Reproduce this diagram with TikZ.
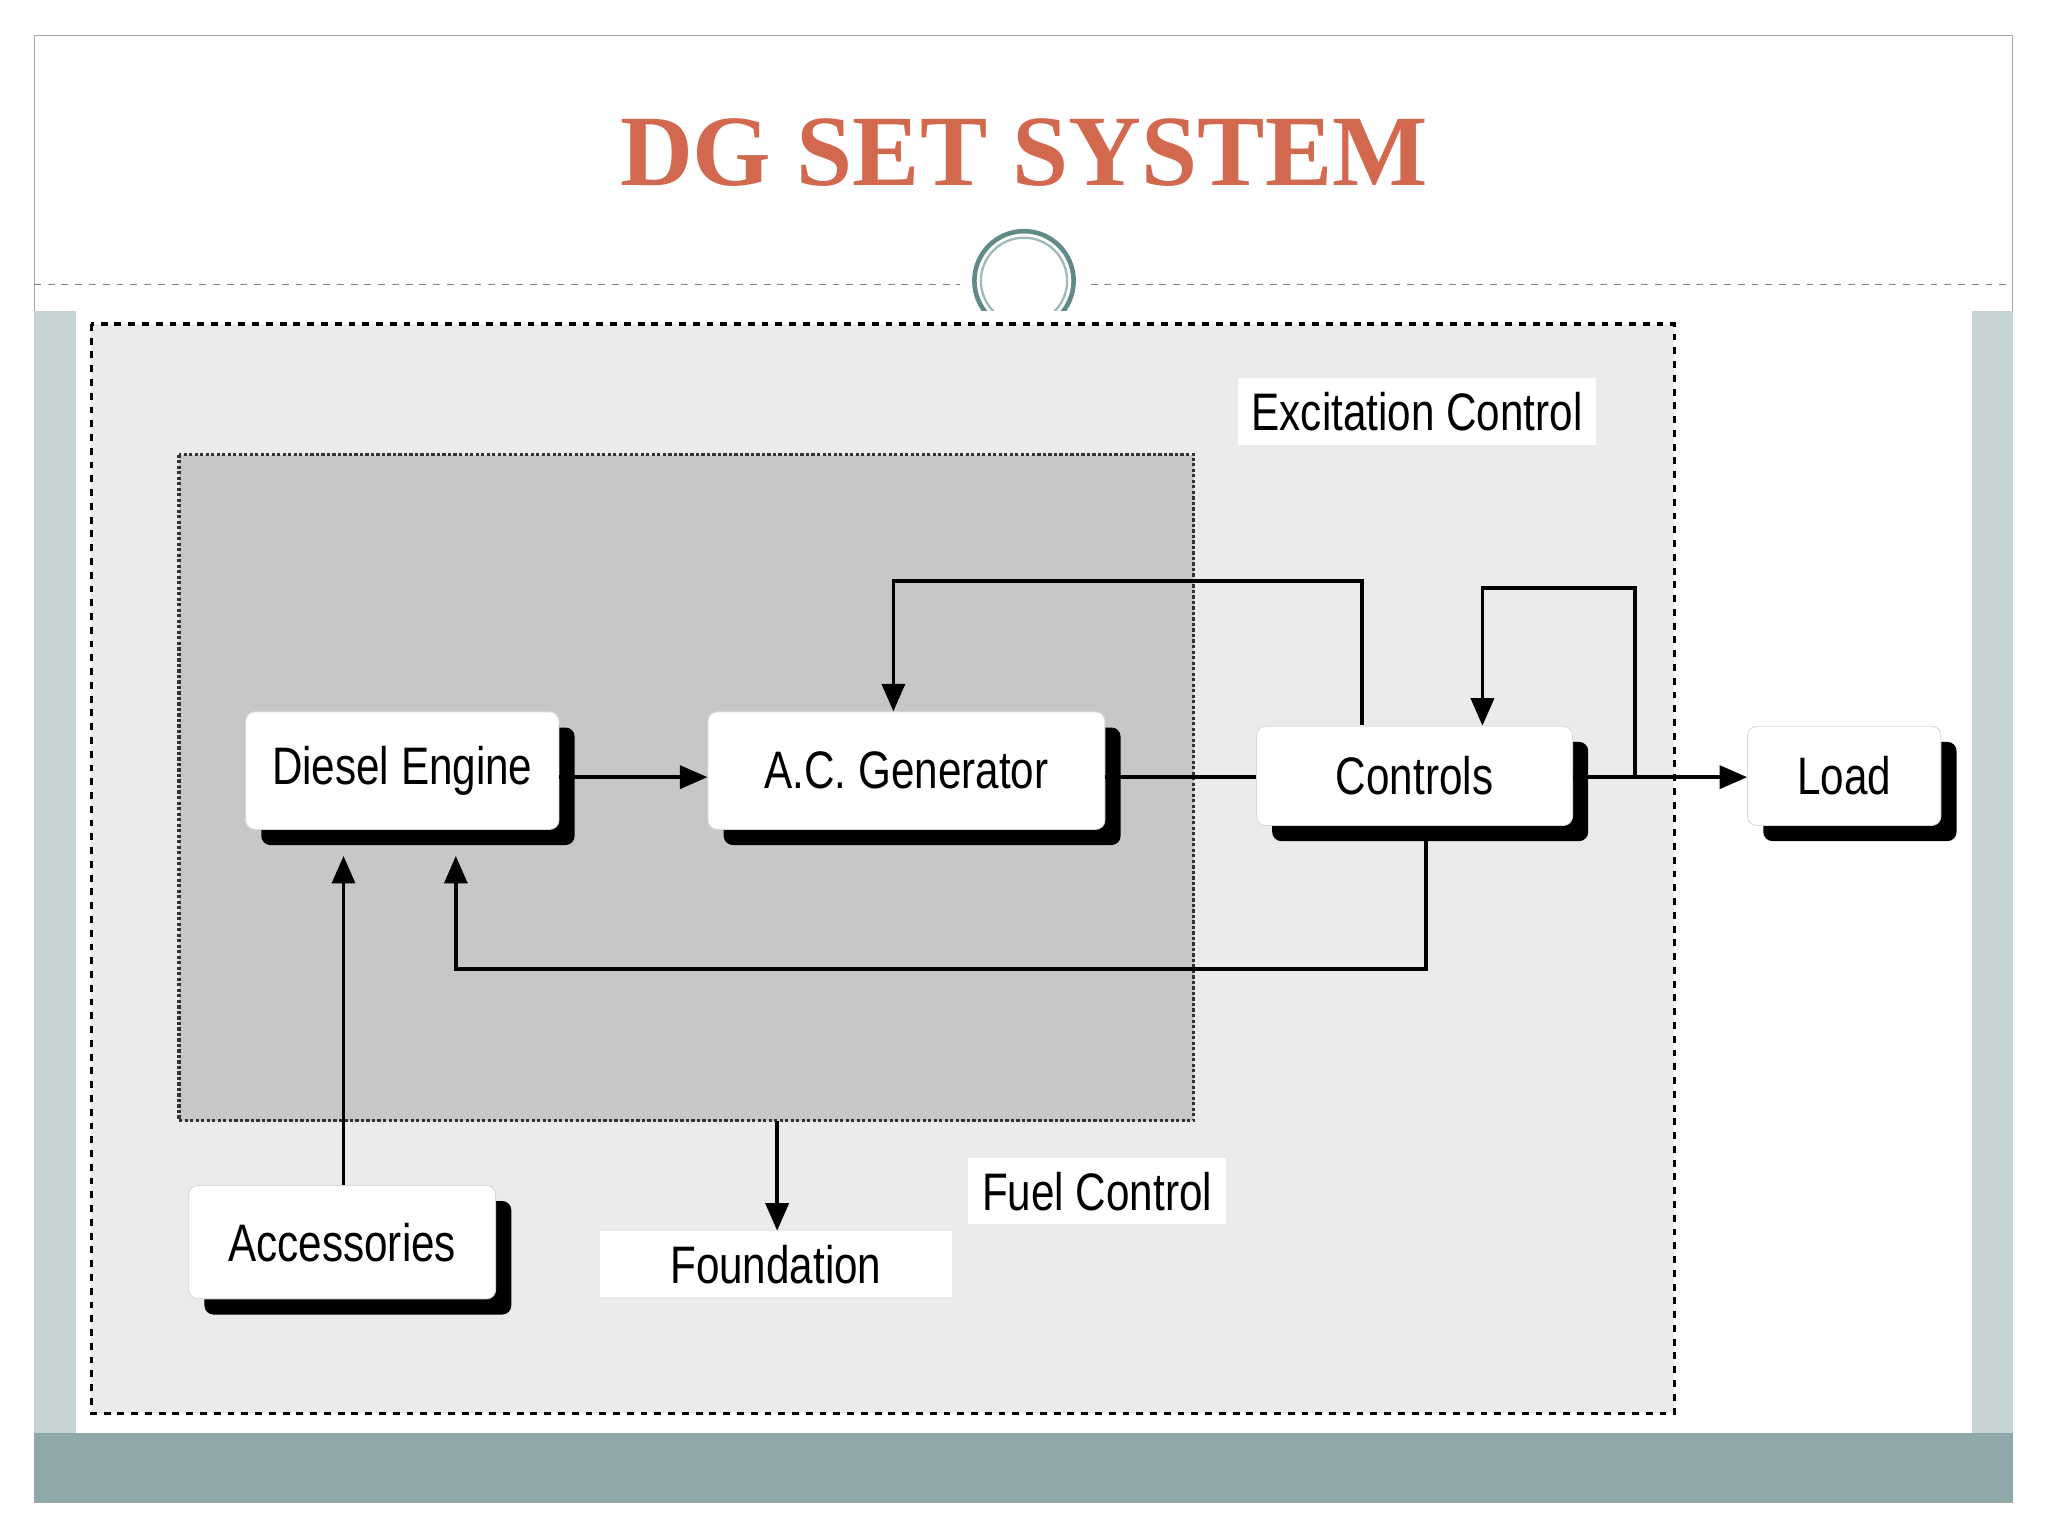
\documentclass[tikz,border=0pt]{standalone}
\usepackage{fontspec}
\setmainfont{Liberation Serif}
\newfontfamily\lab[FakeStretch=0.8]{Liberation Sans}
\usetikzlibrary{positioning, shadows, arrows.meta}
\definecolor{titlered}{HTML}{D2694F}
\definecolor{bandteal}{HTML}{8FA9AB}
\definecolor{sideblue}{HTML}{C5D3D5}
\definecolor{ringteal}{HTML}{5F8A88}
\begin{document}
\begin{tikzpicture}[x=0.02cm, y=-0.02cm, >={Triangle[length=12pt,width=10pt]},
    blk/.style={draw=black!15, fill=white, rounded corners=4pt, font=\lab\fontsize{23}{25}\selectfont,
      drop shadow={shadow xshift=0.24cm, shadow yshift=-0.24cm, fill=black, opacity=1}},
    lbl/.style={fill=white, inner sep=6pt, font=\lab\fontsize{23}{25}\selectfont},
    wire/.style={line width=1.6pt}]
    \useasboundingbox (0,0) rectangle (1568,1176);
    % slide background
    \fill[white] (0,0) rectangle (1568,1176);
    \draw[gray!70] (26,27) rectangle (1541,1150);
    \node[text=titlered, font=\bfseries\fontsize{44}{48}\selectfont] (title) at (784,117) {DG SET SYSTEM};
    \draw[gray, dashed] (26,218) -- (735,218);
    \draw[gray, dashed] (835,218) -- (1541,218);
    \draw[ringteal, line width=2pt] (784,215) circle (38);
    \draw[ringteal!60, line width=1pt] (784,215) circle (33);
    \fill[sideblue] (26,238) rectangle (1541,1097);
    \fill[white] (58,238) rectangle (1510,1097);
    \fill[bandteal] (26,1097) rectangle (1541,1150);
    % diagram frames
    \draw[dashed, line width=1.5pt, fill=black!8] (70,248) rectangle (1282,1082);
    \draw[densely dotted, line width=1.4pt, black!80, fill=black!22] (137,348) rectangle (914,858);
    % blocks
    \node[blk, minimum width=4.8cm, minimum height=1.8cm] (eng) at (308,590) {Diesel Engine};
    \node[blk, minimum width=6.08cm, minimum height=1.8cm] (gen) at (694,590) {A.C. Generator};
    \node[blk, minimum width=4.84cm, minimum height=1.52cm] (ctrl) at (1083,594) {Controls};
    \node[blk, minimum width=2.96cm, minimum height=1.52cm] (load) at (1412,594) {Load};
    \node[blk, minimum width=4.7cm, minimum height=1.74cm] (acc) at (262,951) {Accessories};
    % labels
    \node[lbl] (exc) at (1085,315) {Excitation Control};
    \node[lbl] (fuel) at (840,912) {Fuel Control};
    \node[lbl, minimum width=5.4cm] (fnd) at (594,968) {Foundation};
    % connectors
    \coordinate (box) at (595,858);
    \draw[wire, ->] (eng.east |- 0,595) -- (gen.west |- 0,595);
    \draw[wire] (gen.east |- 0,595) -- (ctrl.west |- 0,595);
    \draw[wire, ->] (ctrl.east |- 0,595) -- (load.west |- 0,595);
    \draw[wire, ->] (1043,555) -- (1043,445) -- (684,445) -- (gen.north -| 684,0);
    \draw[wire, ->] (1252,595) -- (1252,450) -- (1135,450) -- (ctrl.north -| 1135,0);
    \draw[wire, ->] (ctrl.south -| 1092,0) -- (1092,742) -- (349,742) -- ([yshift=-0.4cm]eng.south -| 349,0);
    \draw[wire, ->] (acc.north -| 263,0) -- ([yshift=-0.4cm]eng.south -| 263,0);
    \draw[wire, ->] (box) -- (fnd.north -| box);
\end{tikzpicture}
\end{document}
